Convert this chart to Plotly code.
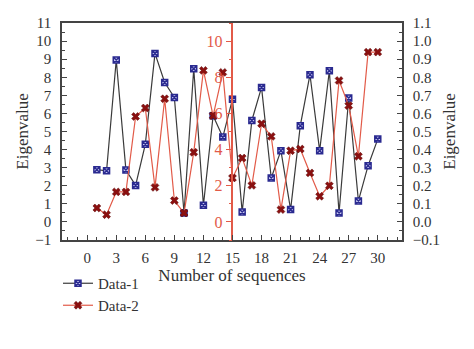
import plotly.graph_objects as go

x_seq = list(range(1, 31))
data1 = [2.89, 2.83, 8.95, 2.87, 2.02, 4.29, 9.32, 7.71, 6.88, 0.49,
         8.47, 0.92, 5.87, 4.69, 6.79, 0.55, 5.61, 7.44, 2.43, 3.94,
         0.68, 5.32, 8.14, 3.94, 8.36, 0.49, 6.85, 1.16, 3.11, 4.58]
data2 = [0.77, 0.40, 1.66, 1.66, 5.83, 6.30, 1.91, 6.81, 1.18, 0.49,
         3.85, 8.38, 5.87, 8.27, 2.43, 3.53, 2.02, 5.43, 4.73, 0.68,
         3.94, 4.03, 2.71, 1.42, 2.00, 7.82, 6.43, 3.63, 9.39, 9.39]
x_ticks = [0, 3, 6, 9, 12, 15, 18, 21, 24, 27, 30]
left_ticks = list(range(-1, 12))
mid_ticks = [0, 2, 4, 6, 8, 10]

FONT = "Liberation Serif"
AX = "#444444"
TXT = "#333333"
RED = "#e25a48"

fig = go.Figure()
fig.add_trace(go.Scatter(
    x=x_seq, y=data1, name="Data-1", mode="lines+markers", legend="legend",
    line=dict(color="#3a3a3a", width=1.2),
    marker=dict(symbol="square-x", size=6, color="#c9c9f2",
                line=dict(color="#2a2a90", width=1.5)),
))
fig.add_trace(go.Scatter(
    x=x_seq, y=data2, name="Data-2", mode="lines+markers", yaxis="y3", legend="legend2",
    line=dict(color=RED, width=1.2),
    marker=dict(symbol="x", size=7, color="#8b1010",
                line=dict(color="#5a0000", width=0.5)),
))
# invisible helper trace so the right axis renders
fig.add_trace(go.Scatter(
    x=x_seq, y=[v / 10 for v in data1], yaxis="y2", mode="markers",
    marker=dict(opacity=0), showlegend=False, hoverinfo="skip",
))

PW, PH = 340, 217
leg_common = dict(xanchor="left", yanchor="top", font=dict(size=15, color=TXT),
                  bgcolor="rgba(0,0,0,0)", itemwidth=30)
fig.update_layout(
    width=474, height=349,
    margin=dict(l=62, r=72, t=23, b=109),
    plot_bgcolor="white", paper_bgcolor="white",
    font=dict(family=FONT, size=15, color=TXT),
    showlegend=True,
    legend=dict(x=(58 - 62) / PW, y=(240 - 267) / PH, **leg_common),
    legend2=dict(x=(58 - 62) / PW, y=(240 - 289) / PH, **leg_common),
    xaxis=dict(
        domain=[0, 1], automargin=False, tickangle=0,
        range=[-2.6, 32.5], tickvals=x_ticks, ticks="inside", ticklen=5,
        tickcolor=AX, showline=True, linecolor=AX, linewidth=1.5, mirror=True,
        showgrid=False, zeroline=False, ticklabelstandoff=3,
        minor=dict(dtick=1, ticks="inside", ticklen=3, tickcolor=AX),
        title=dict(text="Number of sequences", font=dict(size=17, color=TXT), standoff=3),
    ),
    yaxis=dict(
        domain=[0, 1], automargin=False,
        range=[-1, 11], tickvals=left_ticks, ticks="inside", ticklen=5,
        tickcolor=AX, showline=True, linecolor=AX, linewidth=1.5,
        showgrid=False, zeroline=False, ticklabelstandoff=6,
        minor=dict(dtick=0.5, ticks="inside", ticklen=3, tickcolor=AX),
        title=dict(text="Eigenvalue", font=dict(size=17, color=TXT), standoff=2),
    ),
    yaxis2=dict(
        automargin=False,
        range=[-0.1, 1.1], dtick=0.1, tickformat=".1f", overlaying="y", side="right",
        ticks="inside", ticklen=5, tickcolor=AX, showline=True, linecolor=AX,
        linewidth=1.5, showgrid=False, zeroline=False, ticklabelstandoff=6,
        minor=dict(dtick=0.05, ticks="inside", ticklen=3, tickcolor=AX),
        title=dict(text="Eigenvalue", font=dict(size=17, color=TXT), standoff=4),
    ),
    yaxis3=dict(
        automargin=False,
        range=[-1, 11], tickvals=mid_ticks, overlaying="y", anchor="free",
        position=(15 + 2.6) / 35.1, side="left", ticks="outside", ticklen=6,
        tickcolor=RED, showline=True, linecolor=RED, linewidth=1.5,
        showgrid=False, zeroline=False, tickfont=dict(color=RED, size=16),
        minor=dict(dtick=1, ticks="outside", ticklen=3, tickcolor=RED),
    ),
)

fig.write_html("out.html")
